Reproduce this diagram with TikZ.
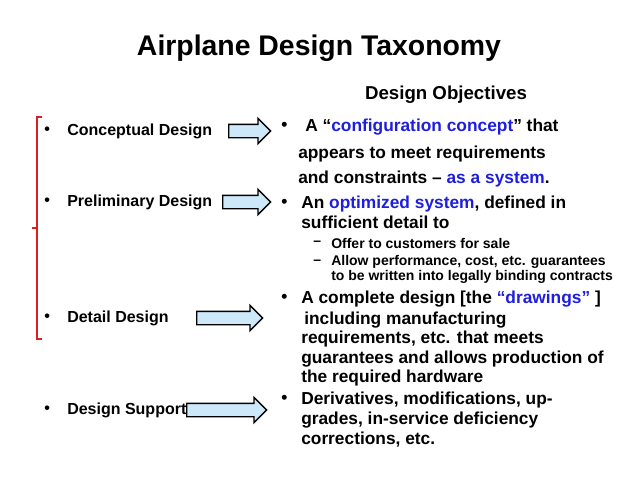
\documentclass[tikz,border=0pt]{standalone}
\usepackage{fontspec}
\setmainfont{Liberation Sans}
\usetikzlibrary{shapes.arrows}
\definecolor{arrfill}{RGB}{205,232,248}
\definecolor{objblue}{RGB}{30,30,220}
\definecolor{brred}{RGB}{220,30,30}
\tikzset{
 x=0.75pt,y=-0.75pt,
 every node/.style={inner sep=0pt,anchor=west,font=\bfseries},
 lt/.style={font=\fontsize{12}{14}\selectfont\bfseries},
 rt/.style={font=\fontsize{13}{15}\selectfont\bfseries},
 st/.style={font=\fontsize{10.5}{12}\selectfont\bfseries},
 bigarrow/.style={single arrow,draw=black,fill=arrfill,line width=1pt,minimum height=#1,inner xsep=0pt,inner ysep=6*0.75pt,single arrow head extend=6*0.75pt,single arrow head indent=0pt,anchor=west},
}
\newcommand{\hl}[1]{\textcolor{objblue}{#1}}
\begin{document}
\begin{tikzpicture}
\useasboundingbox[fill=white] (0,0) rectangle (638,478);
\node[anchor=center,font=\fontsize{21.3}{24}\selectfont\bfseries] (title) at (319,48) {Airplane Design Taxonomy};
\node[anchor=center,font=\fontsize{14}{16}\selectfont\bfseries] (obj) at (446,95) {Design Objectives};
% left
\foreach \n/\y/\t in {c/131/Conceptual Design,p/202/Preliminary Design,d/318/Detail Design,s/410/Design Support}{
 \node[lt] (b\n) at (44,\y) {•};
 \node[lt] (\n) at (67,\y) {\t};
}
% bracket
\draw[brred,line width=1pt] (42,117) -- (37,117) -- (37,339) -- (42,339);
\draw[brred,line width=1pt] (37,228) -- (32,228);
% arrows
\node[bigarrow=42*0.75pt] (ac) at (228,131) {};
\node[bigarrow=48*0.75pt] (ap) at (222,202) {};
\node[bigarrow=66*0.75pt] (ad) at (196,318) {};
\node[bigarrow=80*0.75pt] (as) at (186,410) {};
% right
\node[rt] (r1b) at (281,126) {•};
\node[rt] (r1) at (305,127) {A “\hl{configuration concept}” that};
\node[rt] (r1a) at (298,154) {appears to meet requirements};
\node[rt] (r1c) at (298,179) {and constraints – \hl{as a system}.};
\node[rt] (r2b) at (281,203) {•};
\node[rt] (r2) at (301,204) {An \hl{optimized system}, defined in};
\node[rt] (r2a) at (301,222) {sufficient detail to};
\node[st] (s1d) at (313,243) {–};
\node[st] (s1) at (331,243) {Offer to customers for sale};
\node[st] (s2d) at (313,262) {–};
\node[st] (s2) at (331,262) {Allow performance, cost, etc. guarantees};
\node[st] (s2a) at (331,277) {to be written into legally binding contracts};
\node[rt] (r3b) at (281,298) {•};
\node[rt] (r3) at (301,299) {A complete design [the \hl{“drawings”} ]};
\node[rt] (r3a) at (304,320) {including manufacturing};
\node[rt] (r3c) at (301,339) {requirements, etc. that meets};
\node[rt] (r3d) at (301,359) {guarantees and allows production of};
\node[rt] (r3e) at (301,378) {the required hardware};
\node[rt] (r4b) at (281,399) {•};
\node[rt] (r4) at (301,400) {Derivatives, modifications, up-};
\node[rt] (r4a) at (301,420) {grades, in-service deficiency};
\node[rt] (r4c) at (301,440) {corrections, etc.};
\end{tikzpicture}
\end{document}
